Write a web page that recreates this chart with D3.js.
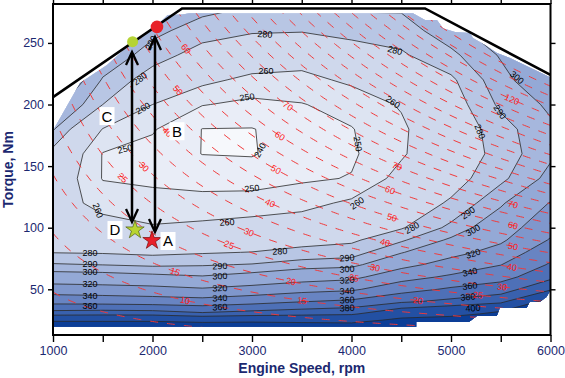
<!DOCTYPE html>
<html>
<head>
<meta charset="utf-8">
<script src="https://d3js.org/d3.v7.min.js"></script>
<style>
  body { margin: 0; background: #fff; }
  svg { display: block; }
</style>
</head>
<body>
<svg></svg>
<script>
var width = 565;
var height = 378;
var margin = {top: 4, right: 14.5, bottom: 43, left: 53};

// grid of the BSFC map (g/kWh), one row per torque, one column per speed
var rpmGrid = [1000, 1500, 2000, 2500, 3000, 3500, 4000, 4500, 5000, 5500, 6000];
var torqueGrid = [15, 20, 25, 30, 40, 50, 60, 70, 80, 90, 100, 120, 140, 160, 180, 200, 220, 240, 260, 280];
var bsfcGrid = [
  [520, 520, 520, 525, 525, 530, 530, 540, 560, 580, 620],   // 15 Nm
  [490, 485, 485, 490, 490, 480, 480, 510, 520, 550, 590],   // 20
  [440, 441, 441, 426, 431, 430, 425, 465, 480, 510, 560],   // 25
  [390, 392, 391, 384, 389, 393, 397, 420, 430, 465, 520],   // 30
  [353, 352, 350, 348, 353, 359.5, 364, 377, 385, 392, 470], // 40
  [330, 328, 326, 322, 327, 333, 337, 352, 363, 372, 395],   // 50
  [307, 306, 303.6, 301, 305, 311, 315, 333, 343, 352, 376], // 60
  [291, 289.7, 288, 289, 290.6, 294.3, 296, 314, 328, 339.5, 362], // 70
  [279.6, 279, 277.5, 279, 280.3, 283.6, 285.5, 299, 314, 327, 353], // 80
  [275, 272.3, 269.5, 271.5, 272, 275.5, 278, 288.5, 302, 317, 341.5], // 90
  [271, 265.4, 261, 262.5, 264, 266.5, 272.5, 279, 292.5, 310, 334], // 100
  [267, 255.5, 253.5, 253.5, 255, 256.5, 262, 272, 281.5, 298, 321], // 120
  [270, 249.5, 248, 246, 245, 248.5, 250.5, 264, 275, 287.5, 303.5], // 140
  [276, 249.5, 246.5, 239.8, 239.3, 245, 248.5, 258.5, 271.5, 284, 298], // 160
  [291, 259.5, 251, 239.8, 239.6, 245, 249.5, 258, 271, 286, 298], // 180
  [305, 280, 260, 250.5, 247.5, 249.5, 254, 261, 274, 292, 302],   // 200
  [318, 289, 274, 263, 257, 257, 262, 270, 278, 296.5, 310],       // 220
  [330, 298, 285, 275, 269, 265, 273.5, 278.5, 287.5, 301, 318],   // 240
  [340, 308, 293, 285, 281.5, 281, 284, 285, 296, 308, 326],       // 260
  [350, 318, 305, 294, 290, 290, 292, 292, 305, 315, 334]          // 280
];
var bsfcLevels = [240, 250, 260, 280, 290, 300, 320, 340, 360, 380, 400, 450];
var bandColors = ["#f6f8fc", "#e9edf7", "#dde4f2", "#cfd8ec", "#b8c6e4", "#a6b7dd",
                  "#94a9d6", "#7f97cc", "#6884c2", "#4e70b7", "#3961ae", "#2350a3", "#0c3e97"];

// constant power lines, kW
var powerLevels = [5, 10, 15, 20, 25, 30, 35, 40, 45, 50, 55, 60, 65, 70, 75, 80, 85, 90,
                   95, 100, 105, 110, 115, 120, 125, 130, 135, 140];

// edge of the mapped area (rpm, Nm)
var mapEdgeRpm = [1000, 4650, 4650, 5180, 5260, 5460, 5490, 5760, 5790, 5890, 5960, 6000,
                  6000, 5593, 5462, 5342, 5221, 5191, 5040, 4920, 4859, 4739, 4618,
                  2370, 2300, 2152, 2080, 1744, 1543, 1271, 1190, 1000];
var mapEdgeTq = [19.5, 19.5, 23.5, 23.5, 28.3, 28.3, 34.8, 34.8, 39.7, 39.7, 43.8, 49.4,
                 222, 237.7, 241.8, 248.3, 254, 258, 258.8, 262, 268.6, 268.6, 274,
                 274, 273, 272.6, 267, 246.7, 232, 217.5, 206, 179];

// full load torque curve
var maxTqRpm = [1000, 2297, 4739, 6000];
var maxTqNm = [206, 278, 278, 224];

// operating points
var pointNames = ["A", "B", "C", "D"];
var circleRpm = [1800, 2045];
var circleTq = [251, 263];
var starRpm = [1995, 1824];
var starTq = [89.6, 98.2];
var arrowRpm = [1794, 2025];
var arrowTop = [242.6, 254.8];
var arrowBottom = [104.6, 96.5];

var xTicks = [1000, 1500, 2000, 2500, 3000, 3500, 4000, 4500, 5000, 5500, 6000];
var yTicks = [50, 100, 150, 200, 250];

// label placement: [value, rpm, Nm, angle]
var bsfcLabelAt = [
  [290, 1985, 250, -62], [280, 1874, 221, -38], [260, 1905, 197, -30], [250, 1724, 164, -15],
  [260, 1452, 114, 70], [250, 2950, 206, -8], [260, 3141, 227, 0], [280, 3131, 257, 3],
  [240, 3080, 163, -62], [250, 4065, 168, 80], [260, 4417, 202, 35], [280, 4437, 244, 15],
  [280, 5291, 178, 68], [290, 5492, 194, 55], [300, 5663, 222, 40], [250, 3000, 132, -6],
  [260, 2749, 104.5, -4], [260, 4055, 120, -35], [280, 3281, 81, -3], [280, 4608, 100, -30],
  [290, 5171, 112, -35], [300, 5221, 98, -30], [320, 5221, 79, -20], [340, 5191, 64, -12],
  [360, 5191, 52.7, -6], [380, 5171, 43.8, -5], [400, 5221, 34.8, -5],
  [290, 3955, 75.5, -4], [300, 3955, 66.5, -4], [320, 3955, 57.5, -4], [340, 3955, 48.6, -3],
  [360, 3955, 41.3, -3], [380, 3955, 34.8, -3],
  [290, 2678, 68.9, -2], [300, 2678, 60.8, -2], [320, 2678, 51, -2], [340, 2678, 42.9, -2],
  [360, 2678, 35.6, -2],
  [280, 1372, 79.5, 0], [290, 1372, 70.5, 0], [300, 1372, 64, 0], [320, 1372, 54.3, 0],
  [340, 1372, 44.6, 0], [360, 1372, 36.5, 0]
];
var powerLabelAt = [
  [60, 2337], [50, 2256], [40, 2150], [30, 1915], [25, 1700], [70, 3362], [60, 3281],
  [50, 3241], [40, 3181], [30, 2970], [25, 2769], [20, 3392], [15, 3503], [15, 2226],
  [10, 2327], [30, 4236], [25, 4025], [70, 4457], [60, 4387], [50, 4407], [40, 4337],
  [20, 4668], [120, 5613], [70, 5623], [60, 5623], [50, 5623], [40, 5613], [30, 5513],
  [25, 5271]
];
var letterAt = [[2156, 89.2], [2246, 178.3], [1543, 190.6], [1623, 98.1]];

var navy = "#1b2870";

var x = d3.scaleLinear().domain([1000, 6000]).range([margin.left, width - margin.right]);
var y = d3.scaleLinear().domain([12.9, 281.6]).range([height - margin.bottom, margin.top]);

var svg = d3.select("svg").attr("width", width).attr("height", height)
    .style("font-family", "'Liberation Sans', Arial, sans-serif");

// clip to the mapped area
svg.append("defs").append("clipPath").attr("id", "mapClip")
  .append("path")
  .attr("d", d3.line()(mapEdgeRpm.map(function(r, i) { return [x(r), y(mapEdgeTq[i])]; })) + "Z");

var map = svg.append("g").attr("clip-path", "url(#mapClip)");

// contour bands
var nx = rpmGrid.length, ny = torqueGrid.length;
var values = [];
bsfcGrid.forEach(function(row) { row.forEach(function(v) { values.push(v); }); });

var iRpm = d3.scaleLinear().domain(d3.range(nx)).range(rpmGrid).clamp(true);
var iTq = d3.scaleLinear().domain(d3.range(ny)).range(torqueGrid).clamp(true);
var gridToScreen = d3.geoTransform({
  point: function(px, py) { this.stream.point(x(iRpm(px - 0.5)), y(iTq(py - 0.5))); }
});
var contourPath = d3.geoPath(gridToScreen);
var bands = d3.contours().size([nx, ny]).thresholds(bsfcLevels)(values);

map.append("rect")
  .attr("x", margin.left).attr("y", margin.top)
  .attr("width", width - margin.left - margin.right)
  .attr("height", height - margin.top - margin.bottom)
  .attr("fill", bandColors[0]);

map.selectAll("path.band")
  .data(bands)
  .enter().append("path")
  .attr("class", "band")
  .attr("d", contourPath)
  .attr("fill", function(d, i) { return bandColors[i + 1]; });

map.selectAll("path.iso")
  .data(bands)
  .enter().append("path")
  .attr("class", "iso")
  .attr("d", contourPath)
  .attr("fill", "none")
  .attr("stroke", "#2a2a2a")
  .attr("stroke-width", 0.8)
  .attr("stroke-linejoin", "round");

// constant power lines
var rpmSteps = d3.range(1000, 6001, 20);
function powerTq(p, r) { return p * 60000 / (2 * Math.PI * r); }
var powerLine = d3.line()
  .x(function(d) { return x(d[0]); })
  .y(function(d) { return y(d[1]); });

map.selectAll("path.power")
  .data(powerLevels)
  .enter().append("path")
  .attr("class", "power")
  .attr("d", function(p) {
    return powerLine(rpmSteps.map(function(r) { return [r, Math.min(powerTq(p, r), 400)]; }));
  })
  .attr("fill", "none")
  .attr("stroke", "#f03a3a")
  .attr("stroke-width", 1)
  .attr("stroke-dasharray", "8,9");

// BSFC labels
svg.append("g").selectAll("text")
  .data(bsfcLabelAt)
  .enter().append("text")
  .attr("transform", function(d) {
    return "translate(" + x(d[1]) + "," + y(d[2]) + ") rotate(" + d[3] + ")";
  })
  .attr("text-anchor", "middle")
  .attr("dy", "0.35em")
  .attr("font-size", "9px")
  .attr("fill", "#000")
  .text(function(d) { return d[0]; });

// power labels
svg.append("g").selectAll("text")
  .data(powerLabelAt)
  .enter().append("text")
  .attr("transform", function(d) {
    var p = d[0], r = d[1];
    var dx = x(r + 60) - x(r - 60);
    var dy = y(powerTq(p, r + 60)) - y(powerTq(p, r - 60));
    var a = Math.atan2(dy, dx) * 180 / Math.PI;
    return "translate(" + x(r) + "," + y(powerTq(p, r)) + ") rotate(" + a + ")";
  })
  .attr("text-anchor", "middle")
  .attr("dy", "0.35em")
  .attr("font-size", "9px")
  .attr("fill", "#ff1a1a")
  .text(function(d) { return d[0]; });

// full load curve
svg.append("path")
  .attr("d", d3.line()(maxTqRpm.map(function(r, i) { return [x(r), y(maxTqNm[i])]; })))
  .attr("fill", "none")
  .attr("stroke", "#000")
  .attr("stroke-width", 2.6);

// axes
var axisG = svg.append("g").attr("class", "axes");
axisG.append("g")
  .attr("transform", "translate(0," + (height - margin.bottom) + ")")
  .call(d3.axisBottom(x).tickValues(xTicks).tickSize(7).tickSizeOuter(0).tickPadding(4)
    .tickFormat(function(d) { return d % 1000 === 0 ? d : ""; }));
axisG.append("g")
  .attr("transform", "translate(0," + margin.top + ")")
  .call(d3.axisTop(x).tickValues(xTicks).tickSize(4).tickSizeOuter(0).tickFormat(""));
axisG.append("g")
  .attr("transform", "translate(" + margin.left + ",0)")
  .call(d3.axisLeft(y).tickValues(yTicks).tickSize(5).tickSizeOuter(0).tickPadding(4));
axisG.append("g")
  .attr("transform", "translate(" + (width - margin.right) + ",0)")
  .call(d3.axisRight(y).tickValues(yTicks).tickSize(5).tickSizeOuter(0).tickFormat(""));
axisG.selectAll(".domain").remove();
axisG.selectAll(".tick line").attr("stroke", "#000").attr("stroke-width", 1.4);
axisG.selectAll(".tick text")
  .attr("fill", navy)
  .style("font-size", "12.5px")
  .style("font-family", "'Liberation Sans', Arial, sans-serif");

svg.append("rect")
  .attr("x", margin.left).attr("y", margin.top)
  .attr("width", width - margin.left - margin.right)
  .attr("height", height - margin.top - margin.bottom)
  .attr("fill", "none")
  .attr("stroke", "#000")
  .attr("stroke-width", 2);

svg.append("text")
  .attr("x", (x.range()[0] + x.range()[1]) / 2)
  .attr("y", 373)
  .attr("text-anchor", "middle")
  .attr("font-weight", "bold")
  .attr("font-size", "14px")
  .attr("fill", navy)
  .text("Engine Speed, rpm");

svg.append("text")
  .attr("transform", "translate(13," + ((y.range()[0] + y.range()[1]) / 2) + ") rotate(-90)")
  .attr("text-anchor", "middle")
  .attr("font-weight", "bold")
  .attr("font-size", "14px")
  .attr("fill", navy)
  .text("Torque, Nm");

// arrows between points
var arrowG = svg.append("g");
arrowRpm.forEach(function(r, i) {
  var ax = x(r), top = y(arrowTop[i]), bot = y(arrowBottom[i]);
  arrowG.append("line")
    .attr("x1", ax).attr("x2", ax).attr("y1", top + 1).attr("y2", bot - 1)
    .attr("stroke", "#000").attr("stroke-width", 2.5);
  arrowG.append("path")
    .attr("d", "M" + (ax - 6) + "," + (top + 13) + "L" + ax + "," + top + "L" + (ax + 6) + "," + (top + 13))
    .attr("fill", "none").attr("stroke", "#000").attr("stroke-width", 2.3);
  arrowG.append("path")
    .attr("d", "M" + (ax - 6) + "," + (bot - 13) + "L" + ax + "," + bot + "L" + (ax + 6) + "," + (bot - 13))
    .attr("fill", "none").attr("stroke", "#000").attr("stroke-width", 2.3);
});

var markColors = ["#b5d334", "#e8232a"];
svg.append("g").selectAll("circle")
  .data(circleRpm)
  .enter().append("circle")
  .attr("cx", function(d) { return x(d); })
  .attr("cy", function(d, i) { return y(circleTq[i]); })
  .attr("r", function(d, i) { return i ? 6.3 : 5.5; })
  .attr("fill", function(d, i) { return markColors[i]; });

var starFill = ["#e8202a", "#b8d431"];
var starEdge = ["#7a0a0a", "#4d5e10"];
svg.append("g").selectAll("path")
  .data(starRpm)
  .enter().append("path")
  .attr("d", d3.symbol(d3.symbolStar, 105))
  .attr("transform", function(d, i) { return "translate(" + x(d) + "," + y(starTq[i]) + ")"; })
  .attr("fill", function(d, i) { return starFill[i]; })
  .attr("stroke", function(d, i) { return starEdge[i]; })
  .attr("stroke-width", 0.7);

var letters = svg.append("g").selectAll("g")
  .data(pointNames)
  .enter().append("g")
  .attr("transform", function(d, i) { return "translate(" + x(letterAt[i][0]) + "," + y(letterAt[i][1]) + ")"; });
letters.append("rect")
  .attr("x", -7.5).attr("y", -9).attr("width", 15).attr("height", 18)
  .attr("fill", "#fff");
letters.append("text")
  .attr("text-anchor", "middle")
  .attr("dy", "0.36em")
  .attr("font-size", "15px")
  .attr("fill", "#000")
  .text(function(d) { return d; });
</script>
</body>
</html>
